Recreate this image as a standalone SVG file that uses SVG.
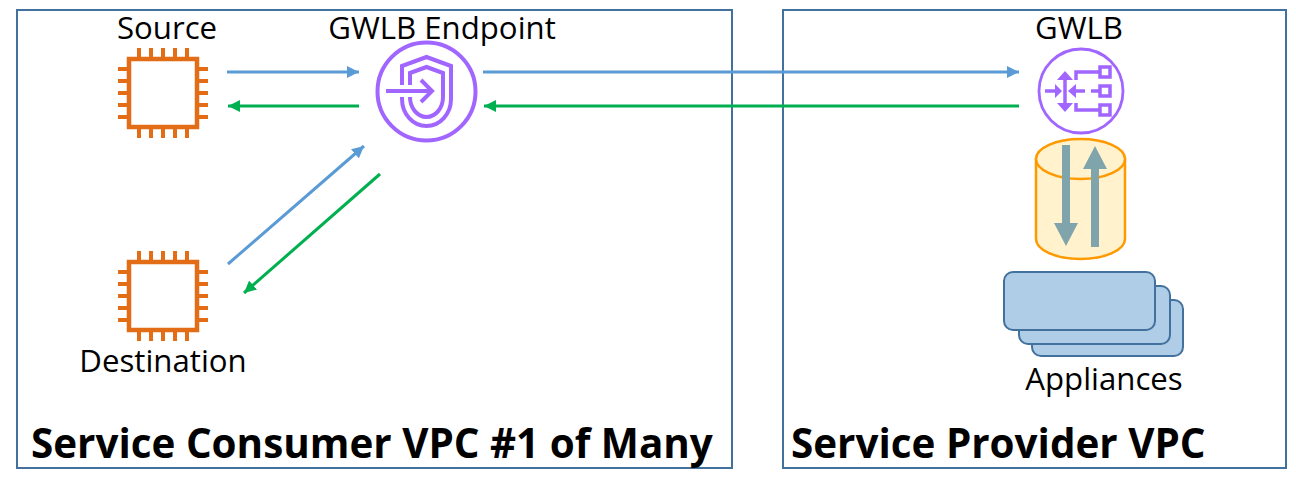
<svg xmlns="http://www.w3.org/2000/svg" width="1296" height="477" viewBox="0 0 1296 477">
<style>
text{font-family:"Open Sans","Noto Sans","DejaVu Sans",sans-serif;fill:#000}
.lbl{font-size:31.200px}
.ttl{font-size:40.400px;font-weight:700}
.vpc{fill:#fff;stroke:#41719c;stroke-width:2}
.chip{fill:none;stroke:#e36c16;stroke-width:4.500}
.pin{fill:none;stroke:#e36c16;stroke-width:4}
.pur{fill:none;stroke:#a166ff;stroke-width:4}
.blue{stroke:#5b9bd5;stroke-width:3;fill:none}
.green{stroke:#00b050;stroke-width:3;fill:none}
.app{fill:#b0cde8;stroke:#41719c;stroke-width:2}
</style>
<defs>
<marker id="ab" markerUnits="userSpaceOnUse" markerWidth="13" markerHeight="12" refX="12" refY="6" orient="auto"><path d="M0 0L12 6L0 12z" fill="#5b9bd5"/></marker>
<marker id="ag" markerUnits="userSpaceOnUse" markerWidth="13" markerHeight="12" refX="12" refY="6" orient="auto"><path d="M0 0L12 6L0 12z" fill="#00b050"/></marker>
<g id="chipshape">
<rect class="chip" x="129" y="59" width="68" height="68"/>
<path class="pin" d="M139 48v11M151 48v11M163 48v11M175 48v11M187 48v11M139 127v11M151 127v11M163 127v11M175 127v11M187 127v11M118 69h11M118 81h11M118 93h11M118 105h11M118 117h11M197 69h11M197 81h11M197 93h11M197 105h11M197 117h11"/>
</g>
</defs>
<g id="consumer-vpc"><rect class="vpc" x="17" y="10" width="715" height="458"/><text class="ttl" x="31" y="458">Service Consumer VPC #1 of Many</text></g>
<g id="provider-vpc"><rect class="vpc" x="783" y="10" width="503" height="458"/><text class="ttl" x="791" y="458">Service Provider VPC</text></g>
<g id="source"><use href="#chipshape"/><text class="lbl" x="167" y="39" text-anchor="middle">Source</text></g>
<g id="destination"><use href="#chipshape" y="203"/><text class="lbl" x="163" y="372" text-anchor="middle">Destination</text></g>
<g id="gwlb-endpoint">
<text class="lbl" x="442" y="39" text-anchor="middle">GWLB Endpoint</text>
<circle class="pur" cx="426.500" cy="91.500" r="49"/>
<path class="pur" d="M386 91H432M421 80L432 91L421 102M402 85V66L426.500 57L451 66V99A24.500 27 0 0 1 402 99V97M410 85V73L426.500 67L443 73V97A16.500 20 0 0 1 410 97"/>
</g>
<g id="gwlb">
<text class="lbl" x="1079" y="39" text-anchor="middle">GWLB</text>
<circle cx="1081" cy="91" r="42" fill="none" stroke="#a166ff" stroke-width="2.800"/>
<path class="pur" d="M1045 91H1056M1075 91H1085M1091 91H1100M1065 78V105M1099 72H1076V80M1076 103V110H1099" style="stroke-width:3.500"/>
<path d="M1062 91l-7-7v14zM1068 91l8-7v14zM1065 71l-8 9h16zM1065 112l-8-9h16z" fill="#a166ff"/>
<rect class="pur" x="1100" y="67" width="10" height="10" style="stroke-width:3.500"/><rect class="pur" x="1100" y="86" width="10" height="10" style="stroke-width:3.500"/><rect class="pur" x="1100" y="105" width="10" height="10" style="stroke-width:3.500"/>
</g>
<g id="appliances-queue">
<path d="M1036 159V239C1036 250 1056 259 1080.500 259S1125 250 1125 239V159z" fill="#fff2cc" stroke="#ff9900" stroke-width="2.500"/>
<ellipse cx="1080.500" cy="159" rx="44.500" ry="20" fill="#fff2cc" stroke="#ff9900" stroke-width="2.500"/>
<path d="M1062 145H1070V223H1078L1066 246L1054 223H1062z" fill="#7fa4ac"/>
<path d="M1091 247H1099V169H1107L1095 146L1083 169H1091z" fill="#7fa4ac"/>
</g>
<g id="appliances">
<rect class="app" x="1032" y="300" width="151" height="56" rx="9"/>
<rect class="app" x="1019" y="286" width="151" height="58" rx="9"/>
<rect class="app" x="1004" y="272" width="151" height="58" rx="9"/>
<text class="lbl" x="1104" y="390" text-anchor="middle">Appliances</text>
</g>
<g id="connectors">
<path class="blue" d="M227 72H359" marker-end="url(#ab)"/>
<path class="green" d="M359 106H228" marker-end="url(#ag)"/>
<path class="blue" d="M483 72H1019" marker-end="url(#ab)"/>
<path class="green" d="M1019 106H484" marker-end="url(#ag)"/>
<path class="blue" d="M228 264L364 146" marker-end="url(#ab)"/>
<path class="green" d="M380 174L244 293" marker-end="url(#ag)"/>
</g>
</svg>
